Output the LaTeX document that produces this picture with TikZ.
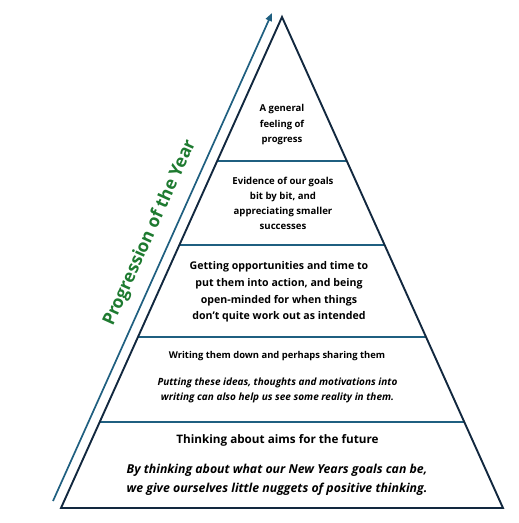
\documentclass[tikz,border=0pt]{standalone}
\usepackage{fontspec}
\setmainfont{Open Sans}
\usepackage{tikz}
\usetikzlibrary{arrows.meta,positioning,calc}
\definecolor{pyrnavy}{HTML}{12283F}
\definecolor{pyrteal}{HTML}{1F5F80}
\definecolor{pyrgreen}{HTML}{1E7A30}
\tikzset{
  pyr/side/.style={draw=pyrnavy, line width=1.9pt, line join=miter},
  pyr/divider/.style={draw=pyrteal, line width=1.8pt},
  pyr/arrow/.style={draw=pyrteal, line width=1.7pt, -{Triangle[length=8pt,width=6.5pt]}},
  pyr/title/.style={text=pyrgreen, font=\fontsize{17.5}{20}\selectfont\bfseries, inner sep=0pt},
  pyr/head/.style={align=center, inner sep=0pt, font=\bfseries},
  pyr/note/.style={align=center, inner sep=0pt, font=\bfseries\itshape}
}

\begin{document}
\begin{tikzpicture}[x=1pt, y=-1pt]
  \useasboundingbox (0,0) rectangle (519,523);

  % Corners of the pyramid
  \coordinate (apex) at (282,17);
  \coordinate (bl) at (61,508);
  \coordinate (br) at (503,508);

  % Tier dividers
  \foreach \t [count=\i] in {0.293,0.464,0.652,0.825} {
    \coordinate (l\i) at ($(apex)!\t!(bl)$);
    \coordinate (r\i) at ($(apex)!\t!(br)$);
    \draw[pyr/divider] (l\i) -- (r\i);
  }

  \draw[pyr/side] (apex) -- (br) -- (bl) -- cycle;

  % Progression arrow and its label
  \coordinate (arrstart) at (53,501);
  \coordinate (arrend) at (272,13);
  \draw[pyr/arrow] (arrstart) -- (arrend);
  \node[pyr/title, rotate=65.8] (progress) at (150,233) {Progression of the Year};

  % Tier texts, top to bottom
  \node[pyr/head, font=\fontsize{9.5}{15.5}\selectfont\bfseries] (feel) at (282,125)
    {A general\\feeling of\\progress};
  \node[pyr/head, font=\fontsize{9.6}{15}\selectfont\bfseries] (evid) at (283,203)
    {Evidence of our goals\\bit by bit, and\\appreciating smaller\\successes};
  \node[pyr/head, font=\fontsize{10.6}{16.7}\selectfont\bfseries] (action) at (279,292)
    {Getting opportunities and time to\\put them into action, and being\\open-minded for when things\\don't quite work out as intended};
  \node[pyr/head, font=\fontsize{9.4}{14}\selectfont\bfseries] (write) at (277,356)
    {Writing them down and perhaps sharing them};
  \node[pyr/note, font=\fontsize{10}{15}\selectfont\bfseries\itshape] (writenote) at (277.5,390.5)
    {Putting these ideas, thoughts and motivations into\\writing can also help us see some reality in them.};
  \node[pyr/head, font=\fontsize{11.7}{14}\selectfont\bfseries] (aims) at (277.5,440)
    {Thinking about aims for the future};
  \node[pyr/note, font=\fontsize{12.3}{19}\selectfont\bfseries\itshape] (aimsnote) at (277,479.5)
    {By thinking about what our New Years goals can be,\\we give ourselves little nuggets of positive thinking.};
\end{tikzpicture}
\end{document}
